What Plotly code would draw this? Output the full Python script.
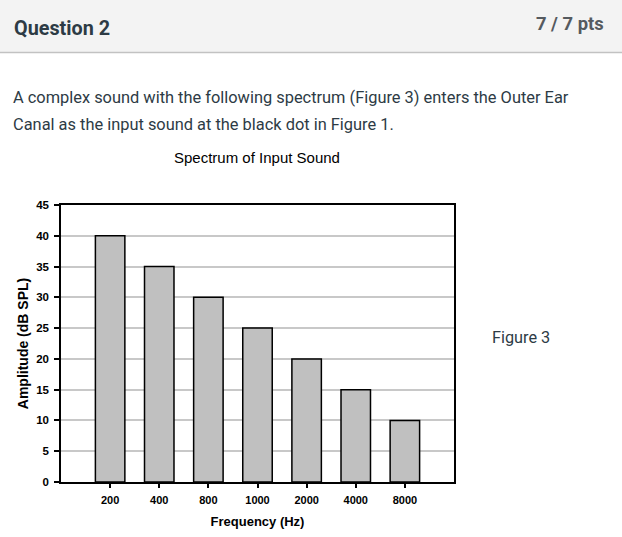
import plotly.graph_objects as go

frequencies = ["200", "400", "800", "1000", "2000", "4000", "8000"]
amplitudes = [40, 35, 30, 25, 20, 15, 10]

W, H = 622, 537
L, R, T, B = 61, 454, 205, 482


def px(x):
    return (x - L) / (R - L)


def py(y):
    return (B - y) / (B - T)


fig = go.Figure()
fig.add_trace(go.Bar(
    x=frequencies, y=amplitudes, width=0.6,
    marker=dict(color="#c0c0c0", line=dict(color="#000000", width=1.5)),
    hoverinfo="x+y",
))

fig.update_layout(
    width=W, height=H,
    margin=dict(l=L, r=W - R, t=T, b=H - B, pad=0, autoexpand=False),
    paper_bgcolor="white", plot_bgcolor="white",
    showlegend=False,
    font=dict(family="Arial, Liberation Sans", color="#000000"),
    bargap=0.4,
)
fig.update_xaxes(
    type="category", range=[-1, 7], automargin=False,
    showline=True, linecolor="#000000", linewidth=1.5, mirror=True,
    ticks="outside", ticklen=4, tickwidth=1.5, tickcolor="#000000",
    ticklabelstandoff=3,
    tickfont=dict(family="Arial, Liberation Sans", size=11, color="#000000", weight="bold"),
    showgrid=False,
    title=dict(text="<b>Frequency (Hz)</b>", font=dict(size=13), standoff=12),
)
fig.update_yaxes(
    range=[0, 45], dtick=5, tick0=0, automargin=False,
    showline=True, linecolor="#000000", linewidth=1.5, mirror=True,
    ticks="outside", ticklen=5, tickwidth=1.5, tickcolor="#000000",
    ticklabelstandoff=3,
    tickfont=dict(family="Arial, Liberation Sans", size=11.5, color="#000000", weight="bold"),
    showgrid=True, gridcolor="#c8c8c8", gridwidth=1.5,
    zeroline=False,
    title=dict(text="<b>Amplitude (dB SPL)</b>", font=dict(size=14), standoff=4),
)

# Page header
fig.add_shape(type="rect", xref="paper", yref="paper",
              x0=px(0), x1=px(W), y0=py(0), y1=py(52),
              fillcolor="#f3f3f3", line=dict(width=0), layer="below")
fig.add_shape(type="line", xref="paper", yref="paper",
              x0=px(0), x1=px(W), y0=py(52.5), y1=py(52.5),
              line=dict(color="#c2c2c2", width=1.5))

page_font = "Roboto, Noto Sans, sans-serif"
fig.add_annotation(text="<b>Question 2</b>", xref="paper", yref="paper",
                   x=px(12), y=py(28), xanchor="left", yanchor="middle", showarrow=False,
                   font=dict(family=page_font, size=19.8, color="#2d3b45"))
fig.add_annotation(text="<b>7 / 7 pts</b>", xref="paper", yref="paper",
                   x=px(606), y=py(23), xanchor="right", yanchor="middle", showarrow=False,
                   font=dict(family=page_font, size=18.4, color="#555a5f"))
fig.add_annotation(text="A complex sound with the following spectrum (Figure 3) enters the Outer Ear",
                   xref="paper", yref="paper", x=px(11), y=py(97), xanchor="left", yanchor="middle",
                   showarrow=False, font=dict(family=page_font, size=16.4, color="#2d3b45"))
fig.add_annotation(text="Canal as the input sound at the black dot in Figure 1.",
                   xref="paper", yref="paper", x=px(11), y=py(124), xanchor="left", yanchor="middle",
                   showarrow=False, font=dict(family=page_font, size=16.4, color="#2d3b45"))
fig.add_annotation(text="Spectrum of Input Sound", xref="paper", yref="paper",
                   x=px(257), y=py(157), xanchor="center", yanchor="middle", showarrow=False,
                   font=dict(family="Arial, Liberation Sans", size=15, color="#000000"))
fig.add_annotation(text="Figure 3", xref="paper", yref="paper",
                   x=px(490), y=py(337), xanchor="left", yanchor="middle", showarrow=False,
                   font=dict(family=page_font, size=16.3, color="#2d3b45"))

fig.write_html("out.html", config={"displayModeBar": False},
               post_script="document.body.style.margin='0';")
